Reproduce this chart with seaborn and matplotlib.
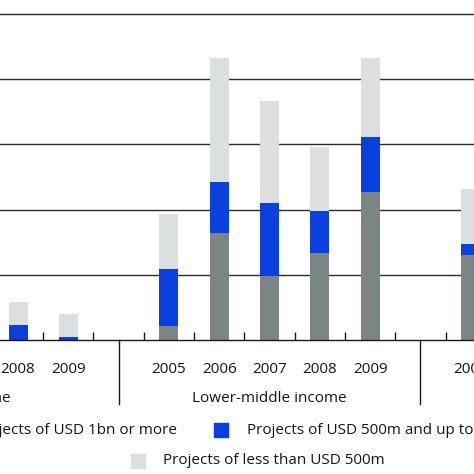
import numpy as np
import pandas as pd
import matplotlib
matplotlib.use("Agg")
import matplotlib.pyplot as plt
import matplotlib.patches as mpatches
import matplotlib.transforms as mtransforms
import seaborn as sns

# ---- data (gridline step = 10 units) ----
groups = ["Low income", "Lower-middle income", "Upper-middle income"]
years = ["2005", "2006", "2007", "2008", "2009"]

# visible bars
low_years = ["2008", "2009"]
low_large = [0.0, 0.0]
low_mid = [2.3, 0.4]
low_small = [3.5, 3.6]

lm_years = ["2005", "2006", "2007", "2008", "2009"]
lm_large = [2.1, 16.4, 9.8, 13.4, 22.7]
lm_mid = [8.8, 7.9, 11.2, 6.4, 8.5]
lm_small = [8.4, 18.9, 15.6, 9.8, 12.1]

um_years = ["2005"]
um_large = [13.1]
um_mid = [1.6]
um_small = [8.4]

series_names = ["Projects of USD 1bn or more",
                "Projects of USD 500m and up to USD 1bn",
                "Projects of less than USD 500m"]
colors = ["#7b8583", "#0a3fe0", "#dcdfdf"]

# ---- build table ----
rows = []
for gi, (yrs, lg, md, sm) in enumerate([(low_years, low_large, low_mid, low_small),
                                         (lm_years, lm_large, lm_mid, lm_small),
                                         (um_years, um_large, um_mid, um_small)]):
    for y, a, b, c in zip(yrs, lg, md, sm):
        pos = gi * 6 + years.index(y)
        rows.append(dict(pos=pos, large=a, mid=b, small=c))
df = pd.DataFrame(rows)
df["c_large"] = df["large"]
df["c_mid"] = df["large"] + df["mid"]
df["c_small"] = df["large"] + df["mid"] + df["small"]

W, H = 474, 474
fig = plt.figure(figsize=(W / 100, H / 100), dpi=100)
base_px = 340
ax = fig.add_axes([0, (H - base_px) / H, 1, base_px / H])

for col, colr in zip(["c_small", "c_mid", "c_large"], [colors[2], colors[1], colors[0]]):
    sns.barplot(data=df, x="pos", y=col, native_scale=True, orient="x",
                color=colr, saturation=1, width=0.378, errorbar=None,
                linewidth=0, ax=ax, zorder=3)

# gridlines
for g in [10, 20, 30, 40, 50]:
    ax.axhline(g, color="#2b2b2b", lw=1.0, zorder=1)

for s in ["top", "right", "left"]:
    ax.spines[s].set_visible(False)
ax.spines["bottom"].set_color("#1a1a1a")
ax.spines["bottom"].set_linewidth(1.0)
ax.spines["bottom"].set_zorder(5)
ax.set_yticks([])
ax.set_ylabel("")
ax.set_xlabel("")

font = "Open Sans"
fs = 11
txtc = "#151515"
major = [gi * 6 + i for gi in range(3) for i in range(5)]
ax.set_xticks(major)
ax.set_xticklabels([y for gi in range(3) for y in years], fontsize=fs, family=font, color=txtc)
ax.tick_params(axis="x", which="major", length=0, pad=15.5)
minor = np.arange(-0.5, 17, 1.0)
ax.set_xticks(minor, minor=True)
ax.tick_params(axis="x", which="minor", direction="in", length=6, width=1.0, color="#1a1a1a")

ax.set_xlim(2.642, 12.064)
ax.set_ylim(0, 10 * base_px / 65.2)

tr = mtransforms.blended_transform_factory(ax.transData, ax.transAxes)
for sep in [5, 11]:
    ax.plot([sep, sep], [0, -64 / base_px], transform=tr, clip_on=False,
            color="#1a1a1a", lw=1.0)
for gi, g in enumerate(groups):
    ax.text(gi * 6 + 2, -59 / base_px, g, transform=tr, ha="center", va="center",
            fontsize=fs, family=font, color=txtc, clip_on=False)

# legend (manual)
def fx(px):
    return px / W
def fy(py):
    return 1 - py / H

fig.patches.append(mpatches.Rectangle((fx(-75), fy(437)), 14 / W, 14 / H,
                                      transform=fig.transFigure, color=colors[0]))
fig.text(fx(177), fy(430), series_names[0], ha="right", va="center",
         fontsize=fs, family=font, color=txtc)
fig.patches.append(mpatches.Rectangle((fx(214), fy(437)), 14 / W, 14 / H,
                                      transform=fig.transFigure, color=colors[1]))
fig.text(fx(247), fy(430), series_names[1], ha="left", va="center",
         fontsize=fs, family=font, color=txtc)
fig.patches.append(mpatches.Rectangle((fx(131), fy(468)), 14 / W, 14 / H,
                                      transform=fig.transFigure, color=colors[2]))
fig.text(fx(163), fy(460), series_names[2], ha="left", va="center",
         fontsize=fs, family=font, color=txtc)

fig.savefig("out.png", dpi=100)
